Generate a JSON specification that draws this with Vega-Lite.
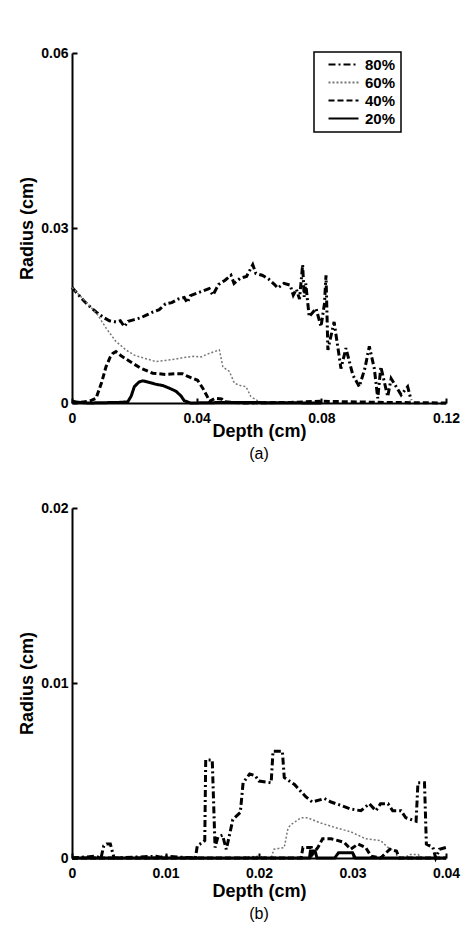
{
  "$schema": "https://vega.github.io/schema/vega-lite/v6.json",
  "padding": {"left": 18, "top": 46, "right": 5, "bottom": 5},
  "config": {
    "view": {"stroke": null},
    "font": "Liberation Sans",
    "axis": {
      "grid": false, "domainColor": "black", "domainWidth": 2,
      "tickColor": "black", "tickWidth": 2, "tickSize": -5,
      "labelFont": "Liberation Sans", "labelFontSize": 14, "labelFontWeight": "bold", "labelColor": "black",
      "titleFont": "Liberation Sans", "titleFontSize": 18, "titleFontWeight": "bold", "titleColor": "black"
    },
    "axisX": {"labelFlush": false, "labelPadding": 13, "titlePadding": -3},
    "axisY": {"labelPadding": 9, "titlePadding": 4},
    "legend": {
      "padding": 5, "strokeColor": "black", "strokeWidth": 1.5, "fillColor": "white",
      "symbolType": "M-1,0H5", "symbolSize": 100, "symbolStrokeWidth": 2, "symbolOffset": 7,
      "labelOffset": 24, "labelFont": "Liberation Sans", "labelFontSize": 15, "labelFontWeight": "bold",
      "labelColor": "black", "rowPadding": 2
    },
    "title": {"orient": "bottom", "font": "Liberation Sans", "fontWeight": "normal", "fontSize": 16, "color": "black", "offset": 6}
  },
  "datasets": {
    "a": [
      {"s": "80%", "d": 0, "r": 0.0198}, {"s": "80%", "d": 0.002, "r": 0.0186}, {"s": "80%", "d": 0.004, "r": 0.0174},
      {"s": "80%", "d": 0.006, "r": 0.0164}, {"s": "80%", "d": 0.008, "r": 0.0155}, {"s": "80%", "d": 0.01, "r": 0.0147},
      {"s": "80%", "d": 0.012, "r": 0.0141}, {"s": "80%", "d": 0.0141, "r": 0.0139}, {"s": "80%", "d": 0.0155, "r": 0.0141},
      {"s": "80%", "d": 0.0168, "r": 0.0131}, {"s": "80%", "d": 0.018, "r": 0.014}, {"s": "80%", "d": 0.02, "r": 0.0143},
      {"s": "80%", "d": 0.022, "r": 0.0146}, {"s": "80%", "d": 0.024, "r": 0.0151}, {"s": "80%", "d": 0.026, "r": 0.0156},
      {"s": "80%", "d": 0.028, "r": 0.016}, {"s": "80%", "d": 0.03, "r": 0.017}, {"s": "80%", "d": 0.032, "r": 0.0172},
      {"s": "80%", "d": 0.034, "r": 0.0178}, {"s": "80%", "d": 0.036, "r": 0.0181}, {"s": "80%", "d": 0.037, "r": 0.0172},
      {"s": "80%", "d": 0.038, "r": 0.0184}, {"s": "80%", "d": 0.04, "r": 0.0188}, {"s": "80%", "d": 0.042, "r": 0.0192},
      {"s": "80%", "d": 0.044, "r": 0.0196}, {"s": "80%", "d": 0.0452, "r": 0.0185}, {"s": "80%", "d": 0.047, "r": 0.0203},
      {"s": "80%", "d": 0.049, "r": 0.021}, {"s": "80%", "d": 0.051, "r": 0.0219}, {"s": "80%", "d": 0.052, "r": 0.0205},
      {"s": "80%", "d": 0.054, "r": 0.0214}, {"s": "80%", "d": 0.056, "r": 0.0217}, {"s": "80%", "d": 0.058, "r": 0.0237},
      {"s": "80%", "d": 0.059, "r": 0.0222}, {"s": "80%", "d": 0.061, "r": 0.0219}, {"s": "80%", "d": 0.063, "r": 0.0213},
      {"s": "80%", "d": 0.065, "r": 0.0203}, {"s": "80%", "d": 0.066, "r": 0.0197}, {"s": "80%", "d": 0.068, "r": 0.0205},
      {"s": "80%", "d": 0.07, "r": 0.0202}, {"s": "80%", "d": 0.071, "r": 0.0185}, {"s": "80%", "d": 0.072, "r": 0.0195},
      {"s": "80%", "d": 0.073, "r": 0.0178}, {"s": "80%", "d": 0.074, "r": 0.0237}, {"s": "80%", "d": 0.0745, "r": 0.0182},
      {"s": "80%", "d": 0.075, "r": 0.0205}, {"s": "80%", "d": 0.0761, "r": 0.0148}, {"s": "80%", "d": 0.0783, "r": 0.0162},
      {"s": "80%", "d": 0.0799, "r": 0.0131}, {"s": "80%", "d": 0.081, "r": 0.017}, {"s": "80%", "d": 0.0815, "r": 0.0219},
      {"s": "80%", "d": 0.0821, "r": 0.0091}, {"s": "80%", "d": 0.0841, "r": 0.0139}, {"s": "80%", "d": 0.0863, "r": 0.0059},
      {"s": "80%", "d": 0.0879, "r": 0.0094}, {"s": "80%", "d": 0.0901, "r": 0.0048}, {"s": "80%", "d": 0.0922, "r": 0.0028},
      {"s": "80%", "d": 0.094, "r": 0.006}, {"s": "80%", "d": 0.0954, "r": 0.0097}, {"s": "80%", "d": 0.097, "r": 0.0059},
      {"s": "80%", "d": 0.0981, "r": 0.0008}, {"s": "80%", "d": 0.0991, "r": 0.0062}, {"s": "80%", "d": 0.1013, "r": 0.0011},
      {"s": "80%", "d": 0.1024, "r": 0.0042}, {"s": "80%", "d": 0.1056, "r": 0.0014}, {"s": "80%", "d": 0.1077, "r": 0.0028},
      {"s": "80%", "d": 0.1088, "r": 0.0005},
      {"s": "60%", "d": 0, "r": 0.0198}, {"s": "60%", "d": 0.004, "r": 0.0176}, {"s": "60%", "d": 0.008, "r": 0.0153},
      {"s": "60%", "d": 0.011, "r": 0.0128}, {"s": "60%", "d": 0.014, "r": 0.0106}, {"s": "60%", "d": 0.0173, "r": 0.0091},
      {"s": "60%", "d": 0.02, "r": 0.0082}, {"s": "60%", "d": 0.023, "r": 0.0077}, {"s": "60%", "d": 0.027, "r": 0.0071},
      {"s": "60%", "d": 0.03, "r": 0.0073}, {"s": "60%", "d": 0.033, "r": 0.0075}, {"s": "60%", "d": 0.036, "r": 0.0078},
      {"s": "60%", "d": 0.039, "r": 0.008}, {"s": "60%", "d": 0.0414, "r": 0.0079}, {"s": "60%", "d": 0.044, "r": 0.0085},
      {"s": "60%", "d": 0.0473, "r": 0.0091}, {"s": "60%", "d": 0.0484, "r": 0.0062}, {"s": "60%", "d": 0.0505, "r": 0.0054},
      {"s": "60%", "d": 0.0521, "r": 0.0034}, {"s": "60%", "d": 0.054, "r": 0.003}, {"s": "60%", "d": 0.0558, "r": 0.0028},
      {"s": "60%", "d": 0.0574, "r": 0.0011}, {"s": "60%", "d": 0.0601, "r": 0.0002}, {"s": "60%", "d": 0.065, "r": 0.0001},
      {"s": "60%", "d": 0.07, "r": 0},
      {"s": "40%", "d": 0, "r": 0.0003}, {"s": "40%", "d": 0.002, "r": 0.0001}, {"s": "40%", "d": 0.004, "r": 0.0002},
      {"s": "40%", "d": 0.006, "r": 0.0004}, {"s": "40%", "d": 0.0077, "r": 0.0008}, {"s": "40%", "d": 0.0095, "r": 0.0035},
      {"s": "40%", "d": 0.0109, "r": 0.0062}, {"s": "40%", "d": 0.0122, "r": 0.0078}, {"s": "40%", "d": 0.0131, "r": 0.0085},
      {"s": "40%", "d": 0.0141, "r": 0.0088}, {"s": "40%", "d": 0.016, "r": 0.008}, {"s": "40%", "d": 0.0195, "r": 0.0068},
      {"s": "40%", "d": 0.022, "r": 0.006}, {"s": "40%", "d": 0.0259, "r": 0.0051}, {"s": "40%", "d": 0.03, "r": 0.0049},
      {"s": "40%", "d": 0.033, "r": 0.005}, {"s": "40%", "d": 0.0355, "r": 0.005}, {"s": "40%", "d": 0.037, "r": 0.0046},
      {"s": "40%", "d": 0.0403, "r": 0.0039}, {"s": "40%", "d": 0.042, "r": 0.0025}, {"s": "40%", "d": 0.0435, "r": 0.001},
      {"s": "40%", "d": 0.0441, "r": 0.0003}, {"s": "40%", "d": 0.046, "r": 0.0008}, {"s": "40%", "d": 0.048, "r": 0.0007},
      {"s": "40%", "d": 0.049, "r": 0.0002}, {"s": "40%", "d": 0.055, "r": 0}, {"s": "40%", "d": 0.07, "r": 0.0001},
      {"s": "40%", "d": 0.0796, "r": 0.0003}, {"s": "40%", "d": 0.1, "r": 0.0001}, {"s": "40%", "d": 0.12, "r": 0},
      {"s": "20%", "d": 0, "r": 0.0002}, {"s": "20%", "d": 0.005, "r": 0}, {"s": "20%", "d": 0.015, "r": 0.0001},
      {"s": "20%", "d": 0.0179, "r": 0.0002}, {"s": "20%", "d": 0.019, "r": 0.0012}, {"s": "20%", "d": 0.02, "r": 0.0028},
      {"s": "20%", "d": 0.0215, "r": 0.0036}, {"s": "20%", "d": 0.0227, "r": 0.0038}, {"s": "20%", "d": 0.025, "r": 0.0035},
      {"s": "20%", "d": 0.027, "r": 0.0032}, {"s": "20%", "d": 0.0291, "r": 0.003}, {"s": "20%", "d": 0.031, "r": 0.0026},
      {"s": "20%", "d": 0.0334, "r": 0.002}, {"s": "20%", "d": 0.035, "r": 0.0012}, {"s": "20%", "d": 0.036, "r": 0.0004},
      {"s": "20%", "d": 0.038, "r": 0}, {"s": "20%", "d": 0.05, "r": 0.0001}, {"s": "20%", "d": 0.08, "r": 0}
    ],
    "b": [
      {"s": "80%", "d": 0, "r": 0}, {"s": "80%", "d": 0.0025, "r": 0.0001}, {"s": "80%", "d": 0.0031, "r": 0},
      {"s": "80%", "d": 0.0034, "r": 0.0007}, {"s": "80%", "d": 0.0037, "r": 0.0008}, {"s": "80%", "d": 0.0041, "r": 0.0008},
      {"s": "80%", "d": 0.0045, "r": 0}, {"s": "80%", "d": 0.009, "r": 0.0001}, {"s": "80%", "d": 0.0095, "r": 0.00005},
      {"s": "80%", "d": 0.01, "r": 0.0001}, {"s": "80%", "d": 0.0132, "r": 0}, {"s": "80%", "d": 0.0134, "r": 0.0007},
      {"s": "80%", "d": 0.014, "r": 0.0009}, {"s": "80%", "d": 0.0142, "r": 0.001}, {"s": "80%", "d": 0.0143, "r": 0.0056},
      {"s": "80%", "d": 0.015, "r": 0.0056}, {"s": "80%", "d": 0.0153, "r": 0.0006}, {"s": "80%", "d": 0.0156, "r": 0.0012},
      {"s": "80%", "d": 0.0161, "r": 0.0013}, {"s": "80%", "d": 0.0165, "r": 0.0005}, {"s": "80%", "d": 0.0168, "r": 0.0012},
      {"s": "80%", "d": 0.0172, "r": 0.0022}, {"s": "80%", "d": 0.018, "r": 0.0026}, {"s": "80%", "d": 0.0183, "r": 0.0043},
      {"s": "80%", "d": 0.019, "r": 0.0048}, {"s": "80%", "d": 0.0196, "r": 0.0047}, {"s": "80%", "d": 0.02, "r": 0.0044},
      {"s": "80%", "d": 0.0213, "r": 0.0043}, {"s": "80%", "d": 0.0215, "r": 0.0061}, {"s": "80%", "d": 0.0225, "r": 0.0061},
      {"s": "80%", "d": 0.0227, "r": 0.0046}, {"s": "80%", "d": 0.0238, "r": 0.0042}, {"s": "80%", "d": 0.025, "r": 0.0035},
      {"s": "80%", "d": 0.0257, "r": 0.0032}, {"s": "80%", "d": 0.027, "r": 0.0034}, {"s": "80%", "d": 0.0277, "r": 0.0032},
      {"s": "80%", "d": 0.0288, "r": 0.003}, {"s": "80%", "d": 0.0298, "r": 0.0028}, {"s": "80%", "d": 0.0309, "r": 0.0027},
      {"s": "80%", "d": 0.0318, "r": 0.0031}, {"s": "80%", "d": 0.0325, "r": 0.0027}, {"s": "80%", "d": 0.033, "r": 0.0031},
      {"s": "80%", "d": 0.0338, "r": 0.0031}, {"s": "80%", "d": 0.0343, "r": 0.0027}, {"s": "80%", "d": 0.0352, "r": 0.0027},
      {"s": "80%", "d": 0.0357, "r": 0.0023}, {"s": "80%", "d": 0.0368, "r": 0.0021}, {"s": "80%", "d": 0.037, "r": 0.0043},
      {"s": "80%", "d": 0.0377, "r": 0.0043}, {"s": "80%", "d": 0.0379, "r": 0.0008}, {"s": "80%", "d": 0.0386, "r": 0.0006},
      {"s": "80%", "d": 0.0389, "r": 0}, {"s": "80%", "d": 0.0393, "r": 0.0005}, {"s": "80%", "d": 0.04, "r": 0.0006},
      {"s": "60%", "d": 0, "r": 0}, {"s": "60%", "d": 0.017, "r": 0}, {"s": "60%", "d": 0.02, "r": 0.0001},
      {"s": "60%", "d": 0.0213, "r": 0}, {"s": "60%", "d": 0.0216, "r": 0.0005}, {"s": "60%", "d": 0.0227, "r": 0.0006},
      {"s": "60%", "d": 0.0231, "r": 0.0017}, {"s": "60%", "d": 0.0234, "r": 0.0019}, {"s": "60%", "d": 0.0245, "r": 0.0023},
      {"s": "60%", "d": 0.0252, "r": 0.0023}, {"s": "60%", "d": 0.0266, "r": 0.002}, {"s": "60%", "d": 0.0284, "r": 0.0017},
      {"s": "60%", "d": 0.0298, "r": 0.0015}, {"s": "60%", "d": 0.0314, "r": 0.0011}, {"s": "60%", "d": 0.033, "r": 0.001},
      {"s": "60%", "d": 0.0338, "r": 0.0006}, {"s": "60%", "d": 0.0345, "r": 0.0004}, {"s": "60%", "d": 0.0348, "r": 0.0001},
      {"s": "60%", "d": 0.0355, "r": 0}, {"s": "60%", "d": 0.0362, "r": 0.0002}, {"s": "60%", "d": 0.037, "r": 0.0002},
      {"s": "60%", "d": 0.0375, "r": 0}, {"s": "60%", "d": 0.04, "r": 0},
      {"s": "40%", "d": 0, "r": 0}, {"s": "40%", "d": 0.0245, "r": 0}, {"s": "40%", "d": 0.0247, "r": 0.0006},
      {"s": "40%", "d": 0.0256, "r": 0.0006}, {"s": "40%", "d": 0.0257, "r": 0.0002}, {"s": "40%", "d": 0.0263, "r": 0.0006},
      {"s": "40%", "d": 0.0268, "r": 0.0011}, {"s": "40%", "d": 0.0277, "r": 0.0011}, {"s": "40%", "d": 0.0291, "r": 0.0009},
      {"s": "40%", "d": 0.0298, "r": 0.0005}, {"s": "40%", "d": 0.0306, "r": 0.0008}, {"s": "40%", "d": 0.0314, "r": 0.0006},
      {"s": "40%", "d": 0.032, "r": 0.0001}, {"s": "40%", "d": 0.033, "r": 0}, {"s": "40%", "d": 0.034, "r": 0.0005},
      {"s": "40%", "d": 0.0347, "r": 0.0004}, {"s": "40%", "d": 0.035, "r": 0}, {"s": "40%", "d": 0.04, "r": 0},
      {"s": "20%", "d": 0, "r": 0}, {"s": "20%", "d": 0.0254, "r": 0}, {"s": "20%", "d": 0.0255, "r": 0.0004},
      {"s": "20%", "d": 0.026, "r": 0.0004}, {"s": "20%", "d": 0.0262, "r": 0}, {"s": "20%", "d": 0.0281, "r": 0},
      {"s": "20%", "d": 0.0285, "r": 0.0003}, {"s": "20%", "d": 0.03, "r": 0.0003}, {"s": "20%", "d": 0.0303, "r": 0},
      {"s": "20%", "d": 0.04, "r": 0}
    ]
  },
  "spacing": 39,
  "vconcat": [
    {
      "width": 374,
      "height": 350,
      "data": {"name": "a"},
      "title": "(a)",
      "mark": {"type": "line", "strokeCap": "butt"},
      "encoding": {
        "x": {"field": "d", "type": "quantitative", "title": "Depth (cm)",
          "scale": {"domain": [0, 0.12], "nice": false},
          "axis": {"values": [0, 0.04, 0.08, 0.12], "format": ".2~f"}},
        "y": {"field": "r", "type": "quantitative", "title": "Radius (cm)",
          "scale": {"domain": [0, 0.06], "nice": false},
          "axis": {"values": [0, 0.03, 0.06], "format": ".2~f"}},
        "strokeDash": {"field": "s", "type": "nominal",
          "scale": {"domain": ["80%", "60%", "40%", "20%"], "range": [[7, 3, 2, 3], [2, 2], [6, 3], [1, 0]]},
          "legend": {"title": null, "orient": "none", "legendX": 242, "legendY": -1}},
        "color": {"field": "s", "type": "nominal",
          "scale": {"domain": ["80%", "60%", "40%", "20%"], "range": ["black", "#777777", "black", "black"]},
          "legend": {"title": null, "orient": "none", "legendX": 242, "legendY": -1}},
        "strokeWidth": {"condition": {"test": "datum.s === '60%'", "value": 1.5}, "value": 3}
      }
    },
    {
      "width": 374,
      "height": 350,
      "data": {"name": "b"},
      "title": "(b)",
      "mark": {"type": "line", "strokeCap": "butt"},
      "encoding": {
        "x": {"field": "d", "type": "quantitative", "title": "Depth (cm)",
          "scale": {"domain": [0, 0.04], "nice": false},
          "axis": {"values": [0, 0.01, 0.02, 0.03, 0.04], "format": ".2~f", "titlePadding": 2}},
        "y": {"field": "r", "type": "quantitative", "title": "Radius (cm)",
          "scale": {"domain": [0, 0.02], "nice": false},
          "axis": {"values": [0, 0.01, 0.02], "format": ".2~f"}},
        "strokeDash": {"field": "s", "type": "nominal",
          "scale": {"domain": ["80%", "60%", "40%", "20%"], "range": [[7, 3, 2, 3], [2, 2], [6, 3], [1, 0]]},
          "legend": {"title": null, "orient": "none", "legendX": 245, "legendY": 1}},
        "color": {"field": "s", "type": "nominal",
          "scale": {"domain": ["80%", "60%", "40%", "20%"], "range": ["black", "#777777", "black", "black"]},
          "legend": {"title": null, "orient": "none", "legendX": 245, "legendY": 1}},
        "strokeWidth": {"condition": {"test": "datum.s === '60%'", "value": 1.5}, "value": 3}
      }
    }
  ]
}
